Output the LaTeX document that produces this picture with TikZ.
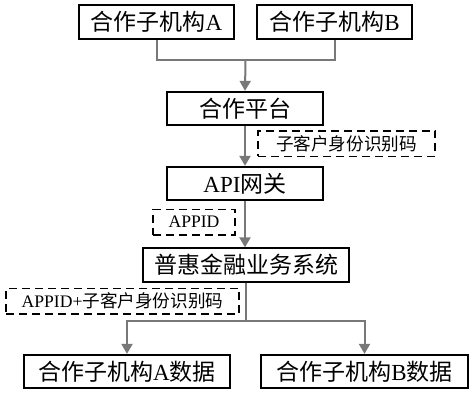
\documentclass[tikz,border=0pt]{standalone}
\usepackage{fontspec}
\setmainfont{Liberation Serif}
\newfontfamily\cjk{Noto Sans CJK SC}
\newcommand{\zh}[1]{{\cjk #1}}
\usetikzlibrary{arrows.meta,calc,positioning}
\definecolor{linkgray}{RGB}{120,120,120}
\tikzset{
  unit/.style={draw=black,line width=0.9pt,inner sep=0pt,
    minimum height=16.75pt,font=\fontsize{11.5}{13}\selectfont},
  tag/.style={draw=black,line width=0.75pt,dash pattern=on 4pt off 2.5pt,
    inner sep=0pt,minimum height=12.75pt,font=\fontsize{8.8}{10}\selectfont},
  link/.style={linkgray,line width=1pt},
  flow/.style={link,-{Triangle[width=5.5pt,length=5pt]}}
}

\begin{document}
\begin{tikzpicture}[x=0.5pt,y=0.5pt]
  \useasboundingbox (0,0) rectangle (474,397);

  % Partner sub-institutions
  \node[unit,minimum width=77.5pt] (orgA) at (156.5,375) {\zh{合作子机构}A};
  \node[unit,minimum width=77.5pt] (orgB) at (334.5,375) {\zh{合作子机构}B};

  % Main chain
  \node[unit,minimum width=78pt]  (platform) at (245,288.5) {\zh{合作平台}};
  \node[unit,minimum width=78pt]  (gateway)  at (245,213.5) {API\zh{网关}};
  \node[unit,minimum width=103pt] (bizsys)   at (246,132)   {\zh{普惠金融业务系统}};

  % Data stores
  \node[unit,minimum width=103pt]  (dataA) at (127,25.5)   {\zh{合作子机构}A\zh{数据}};
  \node[unit,minimum width=103.5pt] (dataB) at (364.5,25.5) {\zh{合作子机构}B\zh{数据}};

  % Carried identifiers
  \node[tag,minimum width=88.5pt]  (tagsub)  at (346.5,253.5) {\zh{子客户身份识别码}};
  \node[tag,minimum width=41pt]    (tagid)   at (194,175)     {APPID};
  \node[tag,minimum width=116.5pt] (tagboth) at (122.5,96)    {APPID+\zh{子客户身份识别码}};

  % Connectors
  \coordinate (joinTop) at (245.5,337);
  \coordinate (joinBot) at (246,76);
  \draw[link] (orgA.south) |- (joinTop) -| (orgB.south);
  \draw[flow] (joinTop) -- (platform.north);
  \draw[flow] (platform.south) -- (gateway.north);
  \draw[flow] (gateway.south) -- (gateway.south |- bizsys.north);
  \draw[link] (bizsys.south) -- (joinBot);
  \draw[flow] (joinBot) -| (dataA.north);
  \draw[flow] (joinBot) -| (dataB.north);

\end{tikzpicture}
\end{document}
